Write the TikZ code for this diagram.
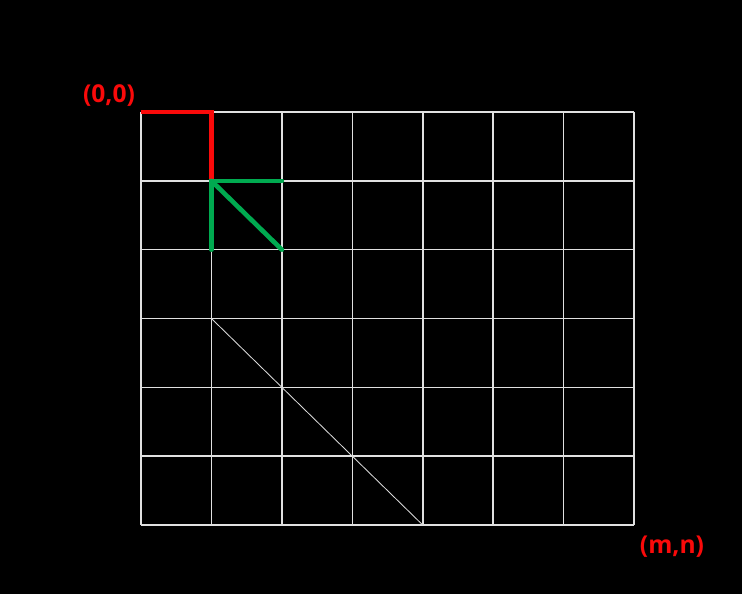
\documentclass[tikz,border=0pt]{standalone}
\usepackage{fontspec}
\setmainfont{Open Sans}
\usetikzlibrary{positioning,calc}
\definecolor{PathRed}{RGB}{250,10,10}
\definecolor{StepGreen}{RGB}{0,170,80}
\tikzset{
  gridline/.style={draw=white!88!black,line width=1.1pt},
  diag/.style={draw=white!85!black,line width=0.6pt},
  redpath/.style={draw=PathRed,line width=3.3pt},
  greenpath/.style={draw=StepGreen,line width=3.3pt,line cap=round},
  corner/.style={text=PathRed,font=\fontsize{17.5}{20}\selectfont\bfseries,inner sep=0pt},
}

\begin{document}
\begin{tikzpicture}[x=0.025cm,y=-0.025cm]
\fill[black] (0,0) rectangle (742,594);
\useasboundingbox (0,0) rectangle (742,594);
% grid points p<col><row>
\foreach \i in {0,...,7}
  \foreach \j in {0,...,6}
    \coordinate (p\i\j) at ({141+70.43*\i},{112+68.83*\j});
\foreach \i in {0,...,7} \draw[gridline] (p\i0) -- (p\i6);
\foreach \j in {0,...,6} \draw[gridline] (p0\j) -- (p7\j);
\draw[diag] (p13) -- (p46);
\draw[redpath] (p00) -- (p10) -- (p11);
\draw[greenpath] (p21) -- (p11) -- (p12);
\draw[greenpath] (p11) -- (p22);
\node[corner] (start) at (109,96) {(0,0)};
\node[corner] (finish) at (672,547) {(m,n)};
\end{tikzpicture}
\end{document}
